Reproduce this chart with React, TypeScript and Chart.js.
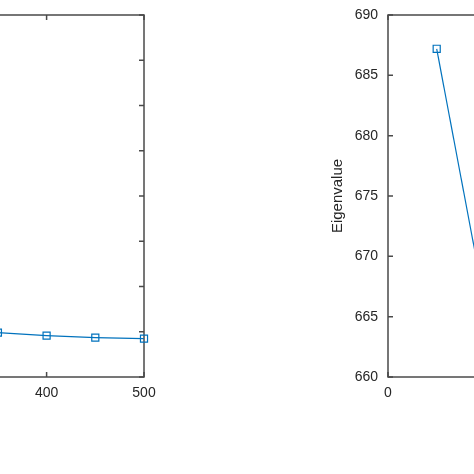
import { useEffect, useRef } from 'react';
import { Chart, registerables } from 'chart.js';

Chart.register(...registerables);

// Left panel (only its right part is visible in the crop)
const leftX = [350, 400, 450, 500];
const leftY = [98.1, 91.5, 87.1, 84.9];
const leftXTicks = [0, 100, 200, 300, 400, 500];
const leftYTicks = [0, 100, 200, 300, 400, 500, 600, 700, 800];

// Right panel (only its left part is visible in the crop)
const rightX = [50, 100];
const rightY = [687.2, 665.8];
const rightXTicks = [0, 100, 200, 300, 400, 500];
const rightYTicks = [660, 665, 670, 675, 680, 685, 690];
const rightYTitle = 'Eigenvalue';

const LINE_COLOR = 'rgb(0,114,189)';
const AXIS_COLOR = '#4a4a4a';
const TEXT_COLOR = '#262626';
const FONT = 'Liberation Sans, Arial, Helvetica, sans-serif';

const frameTicks = {
  id: 'frameTicks',
  beforeDatasetsDraw(chart: any) {
    const { ctx, chartArea: a, scales } = chart;
    const xs = scales.x;
    const ys = scales.y;
    const L = 5;
    ctx.save();
    ctx.strokeStyle = AXIS_COLOR;
    ctx.lineWidth = 1.5;
    ctx.beginPath();
    xs.ticks.forEach((t: any) => {
      const px = xs.getPixelForValue(t.value);
      ctx.moveTo(px, a.bottom);
      ctx.lineTo(px, a.bottom - L);
      ctx.moveTo(px, a.top);
      ctx.lineTo(px, a.top + L);
    });
    ys.ticks.forEach((t: any) => {
      const py = ys.getPixelForValue(t.value);
      ctx.moveTo(a.left, py);
      ctx.lineTo(a.left + L, py);
      ctx.moveTo(a.right, py);
      ctx.lineTo(a.right - L, py);
    });
    ctx.stroke();
    ctx.strokeRect(a.left, a.top, a.right - a.left, a.bottom - a.top);
    ctx.restore();
  },
};

function makeConfig(
  xs: number[],
  ys: number[],
  xTicks: number[],
  yTicks: number[],
  yAxisWidth: number,
  yTitle: string | null
): any {
  const xStep = xTicks[1] - xTicks[0];
  const yStep = yTicks[1] - yTicks[0];
  return {
    type: 'line',
    data: {
      datasets: [
        {
          data: xs.map((x, i) => ({ x, y: ys[i] })),
          borderColor: LINE_COLOR,
          borderWidth: 1.2,
          backgroundColor: 'rgba(0,0,0,0)',
          pointStyle: 'rect',
          pointRadius: 5,
          pointBorderWidth: 1.2,
          pointBorderColor: LINE_COLOR,
          pointBackgroundColor: 'rgba(0,0,0,0)',
          tension: 0,
          clip: false,
        },
      ],
    },
    options: {
      animation: false,
      responsive: false,
      events: [],
      layout: { padding: { top: 15, right: 15, left: 0, bottom: 0 } },
      plugins: { legend: { display: false }, tooltip: { enabled: false } },
      scales: {
        x: {
          type: 'linear',
          min: xTicks[0],
          max: xTicks[xTicks.length - 1],
          grid: { display: false, drawTicks: false },
          border: { display: false },
          ticks: {
            stepSize: xStep,
            padding: 8,
            color: TEXT_COLOR,
            font: { family: FONT, size: 14 },
          },
          afterFit: (scale: any) => {
            scale.height = 97;
            scale.paddingLeft = 0;
            scale.paddingRight = 0;
          },
        },
        y: {
          type: 'linear',
          min: yTicks[0],
          max: yTicks[yTicks.length - 1],
          grid: { display: false, drawTicks: false },
          border: { display: false },
          ticks: {
            stepSize: yStep,
            padding: 10,
            color: TEXT_COLOR,
            font: { family: FONT, size: 14 },
          },
          title: {
            display: !!yTitle,
            text: yTitle || '',
            color: TEXT_COLOR,
            font: { family: FONT, size: 15 },
            padding: { top: 29, bottom: 0 },
          },
          afterFit: (scale: any) => {
            scale.width = yAxisWidth;
            scale.paddingTop = 0;
            scale.paddingBottom = 0;
          },
        },
      },
    },
    plugins: [frameTicks],
  };
}

export default function App() {
  const leftRef = useRef<HTMLCanvasElement>(null);
  const rightRef = useRef<HTMLCanvasElement>(null);

  useEffect(() => {
    const c1 = new Chart(
      leftRef.current!,
      makeConfig(leftX, leftY, leftXTicks, leftYTicks, 60, null)
    );
    const c2 = new Chart(
      rightRef.current!,
      makeConfig(rightX, rightY, rightXTicks, rightYTicks, 88, rightYTitle)
    );
    return () => {
      c1.destroy();
      c2.destroy();
    };
  }, []);

  return (
    <div
      style={{
        position: 'fixed',
        left: 0,
        top: 0,
        width: 474,
        height: 474,
        overflow: 'hidden',
        background: '#ffffff',
      }}
    >
      <canvas
        ref={leftRef}
        width={562}
        height={474}
        style={{ position: 'absolute', left: -403, top: 0, width: 562, height: 474 }}
      />
      <canvas
        ref={rightRef}
        width={590}
        height={474}
        style={{ position: 'absolute', left: 300, top: 0, width: 590, height: 474 }}
      />
    </div>
  );
}
